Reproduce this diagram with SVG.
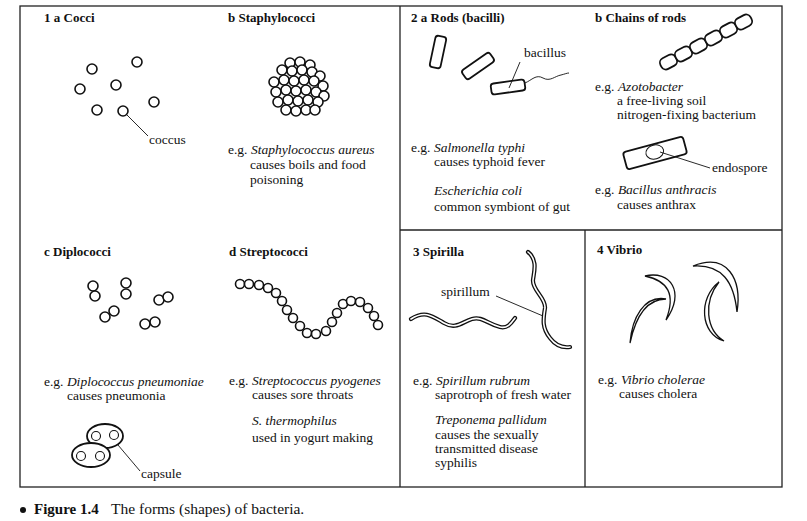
<svg xmlns="http://www.w3.org/2000/svg" width="807" height="521" viewBox="0 0 807 521">
<defs>
<style>
text{font-family:"Liberation Serif","DejaVu Serif",serif;font-size:13.5px;fill:#111}
.h{font-weight:bold;font-size:13px}
.i{font-style:italic}
.c{fill:#fff;stroke:#111;stroke-width:1.6}
.ln{fill:none;stroke:#111;stroke-width:0.9}
.rod{fill:#fff;stroke:#111;stroke-width:1.8}
.sp1{fill:none;stroke:#111;stroke-width:4.2;stroke-linecap:round}
.sp2{fill:none;stroke:#fff;stroke-width:1.6;stroke-linecap:round}
.cr{fill:#fff;stroke:#111;stroke-width:1.3}
</style>
</defs>
<rect width="807" height="521" fill="#fff"/>
<g id="frame" fill="none" stroke="#222" stroke-width="1.3">
<rect x="20" y="6" width="762" height="481"/>
<line x1="400" y1="6" x2="400" y2="487"/>
<line x1="400" y1="230" x2="782" y2="230"/>
<line x1="585" y1="230" x2="585" y2="487"/>
</g>
<g id="cocci">
<text x="44" y="22" class="h">1 a Cocci</text>
<circle class="c" cx="92" cy="69" r="5"/><circle class="c" cx="137" cy="62" r="5"/><circle class="c" cx="80" cy="89" r="5"/><circle class="c" cx="116" cy="85" r="5"/><circle class="c" cx="97" cy="110" r="5"/><circle class="c" cx="123" cy="111" r="5"/><circle class="c" cx="154" cy="102" r="5"/>
<line class="ln" x1="126" y1="114" x2="148" y2="136"/>
<text x="149" y="144">coccus</text>
</g>
<g id="staph">
<text x="228" y="22" class="h">b Staphylococci</text>
<g transform="translate(298,88)">
<circle class="c" cx="-8" cy="-25" r="5"/><circle class="c" cx="2" cy="-26" r="5"/><circle class="c" cx="12" cy="-23" r="5"/>
<circle class="c" cx="-16" cy="-18" r="5"/><circle class="c" cx="-6" cy="-17" r="5"/><circle class="c" cx="4" cy="-18" r="5"/><circle class="c" cx="14" cy="-16" r="5"/><circle class="c" cx="22" cy="-12" r="5"/>
<circle class="c" cx="-24" cy="-6" r="5"/><circle class="c" cx="-14" cy="-8" r="5"/><circle class="c" cx="-4" cy="-7" r="5"/><circle class="c" cx="6" cy="-8" r="5"/><circle class="c" cx="16" cy="-7" r="5"/><circle class="c" cx="25" cy="-2" r="5"/>
<circle class="c" cx="-22" cy="4" r="5"/><circle class="c" cx="-12" cy="2" r="5"/><circle class="c" cx="-2" cy="3" r="5"/><circle class="c" cx="8" cy="2" r="5"/><circle class="c" cx="18" cy="4" r="5"/><circle class="c" cx="26" cy="8" r="5"/>
<circle class="c" cx="-20" cy="14" r="5"/><circle class="c" cx="-10" cy="12" r="5"/><circle class="c" cx="0" cy="13" r="5"/><circle class="c" cx="10" cy="12" r="5"/><circle class="c" cx="20" cy="14" r="5"/>
<circle class="c" cx="-12" cy="22" r="5"/><circle class="c" cx="-2" cy="23" r="5"/><circle class="c" cx="8" cy="22" r="5"/><circle class="c" cx="17" cy="22" r="5"/>
</g>
<text x="228" y="154">e.g. <tspan class="i">Staphylococcus aureus</tspan></text>
<text x="250" y="169">causes boils and food</text>
<text x="250" y="184">poisoning</text>
</g>
<g id="rods">
<text x="411" y="22" class="h">2 a Rods (bacilli)</text>
<rect class="rod" x="-5.5" y="-16" width="11" height="32" rx="3" transform="translate(438,52) rotate(12)"/>
<rect class="rod" x="-17" y="-5.5" width="34" height="11" rx="3" transform="translate(478,66) rotate(-35)"/>
<rect class="rod" x="-17" y="-5.5" width="34" height="11" rx="3" transform="translate(508,87) rotate(-8)"/>
<path class="ln" d="M525,83 C532,80 536,74 543,78 C550,82 555,76 561,75 C565,74 567,73 569,73"/>
<text x="524" y="57">bacillus</text>
<line class="ln" x1="520" y1="62" x2="509" y2="88"/>
<text x="411" y="152">e.g. <tspan class="i">Salmonella typhi</tspan></text>
<text x="434" y="166">causes typhoid fever</text>
<text x="434" y="195" class="i">Escherichia coli</text>
<text x="434" y="211">common symbiont of gut</text>
</g>
<g id="chains">
<text x="595" y="22" class="h">b Chains of rods</text>
<g transform="translate(706,42) rotate(-28)">
<rect class="rod" x="-51" y="-6" width="17" height="12" rx="5"/>
<rect class="rod" x="-34" y="-6" width="17" height="12" rx="5"/>
<rect class="rod" x="-17" y="-6" width="17" height="12" rx="5"/>
<rect class="rod" x="0" y="-6" width="17" height="12" rx="5"/>
<rect class="rod" x="17" y="-6" width="17" height="12" rx="5"/>
<rect class="rod" x="34" y="-6" width="17" height="12" rx="5"/>
</g>
<text x="595" y="91">e.g. <tspan class="i">Azotobacter</tspan></text>
<text x="617" y="105">a free-living soil</text>
<text x="617" y="119">nitrogen-fixing bacterium</text>
<g transform="translate(655,153) rotate(-15)">
<rect class="rod" x="-31" y="-9" width="62" height="18" rx="3"/>
<ellipse cx="0" cy="-1" rx="9" ry="7" fill="none" stroke="#111" stroke-width="1"/>
</g>
<line class="ln" x1="660" y1="152" x2="710" y2="168"/>
<text x="712" y="172">endospore</text>
<text x="595" y="194">e.g. <tspan class="i">Bacillus anthracis</tspan></text>
<text x="617" y="209">causes anthrax</text>
</g>
<g id="diplococci">
<text x="44" y="256" class="h">c Diplococci</text>
<circle class="c" cx="93" cy="286" r="5"/><circle class="c" cx="95" cy="296" r="5"/>
<circle class="c" cx="126" cy="283" r="5"/><circle class="c" cx="126" cy="294" r="5"/>
<circle class="c" cx="159" cy="300" r="5"/><circle class="c" cx="168" cy="297" r="5"/>
<circle class="c" cx="105" cy="317" r="5"/><circle class="c" cx="114" cy="311" r="5"/>
<circle class="c" cx="145" cy="324" r="5"/><circle class="c" cx="155" cy="322" r="5"/>
<text x="44" y="386">e.g. <tspan class="i">Diplococcus pneumoniae</tspan></text>
<text x="67" y="400">causes pneumonia</text>
<ellipse cx="105" cy="436" rx="18" ry="12" fill="#fff" stroke="#111" stroke-width="1.8"/>
<circle cx="96" cy="436" r="4.5" fill="none" stroke="#111" stroke-width="1.1"/><circle cx="114" cy="435" r="4.5" fill="none" stroke="#111" stroke-width="1.1"/>
<ellipse cx="91" cy="455" rx="19" ry="12" fill="#fff" stroke="#111" stroke-width="1.8"/>
<circle cx="81" cy="456" r="4.5" fill="none" stroke="#111" stroke-width="1.1"/><circle cx="100" cy="456" r="4.5" fill="none" stroke="#111" stroke-width="1.1"/>
<line class="ln" x1="118" y1="445" x2="140" y2="471"/>
<text x="141" y="478">capsule</text>
</g>
<g id="streptococci">
<text x="229" y="256" class="h">d Streptococci</text>
<g>
<circle class="c" cx="240" cy="284" r="4.5"/><circle class="c" cx="249" cy="284" r="4.5"/><circle class="c" cx="259" cy="285" r="4.5"/><circle class="c" cx="268" cy="288" r="4.5"/><circle class="c" cx="276" cy="293" r="4.5"/><circle class="c" cx="282" cy="301" r="4.5"/><circle class="c" cx="287" cy="310" r="4.5"/><circle class="c" cx="293" cy="318" r="4.5"/><circle class="c" cx="300" cy="326" r="4.5"/><circle class="c" cx="307" cy="333" r="4.5"/><circle class="c" cx="316" cy="334" r="4.5"/><circle class="c" cx="326" cy="331" r="4.5"/><circle class="c" cx="332" cy="322" r="4.5"/><circle class="c" cx="337" cy="313" r="4.5"/><circle class="c" cx="343" cy="304" r="4.5"/><circle class="c" cx="351" cy="301" r="4.5"/><circle class="c" cx="360" cy="302" r="4.5"/><circle class="c" cx="368" cy="308" r="4.5"/><circle class="c" cx="374" cy="316" r="4.5"/><circle class="c" cx="378" cy="325" r="4.5"/>
</g>
<text x="229" y="385">e.g. <tspan class="i">Streptococcus pyogenes</tspan></text>
<text x="252" y="399">causes sore throats</text>
<text x="252" y="425" class="i">S. thermophilus</text>
<text x="252" y="442">used in yogurt making</text>
</g>
<g id="spirilla">
<text x="413" y="256" class="h">3 Spirilla</text>
<path class="sp1" d="M411,319 C425,310 432,316 444,323 C456,330 462,322 472,319 C482,316 488,324 500,327 C508,329 512,322 515,318"/>
<path class="sp2" d="M411,319 C425,310 432,316 444,323 C456,330 462,322 472,319 C482,316 488,324 500,327 C508,329 512,322 515,318"/>
<path class="sp1" d="M528,252 C538,260 534,272 533,280 C532,290 546,298 545,308 C543,320 542,328 550,338 C556,346 563,348 570,347"/>
<path class="sp2" d="M528,252 C538,260 534,272 533,280 C532,290 546,298 545,308 C543,320 542,328 550,338 C556,346 563,348 570,347"/>
<text x="441" y="296">spirillum</text>
<line class="ln" x1="496" y1="296" x2="543" y2="316"/>
<text x="413" y="385">e.g. <tspan class="i">Spirillum rubrum</tspan></text>
<text x="435" y="399">saprotroph of fresh water</text>
<text x="435" y="424" class="i">Treponema pallidum</text>
<text x="435" y="439">causes the sexually</text>
<text x="435" y="453">transmitted disease</text>
<text x="435" y="467">syphilis</text>
</g>
<g id="vibrio">
<text x="597" y="254" class="h">4 Vibrio</text>
<path class="cr" d="M630,343 C632,318 644,295 666,299 C648,299 636,315 630,343 Z"/>
<path class="cr" d="M645,276 C670,270 686,292 666,320 C676,294 668,281 645,276 Z"/>
<path class="cr" d="M693,266 C728,252 742,280 737,312 C734,282 722,264 693,266 Z"/>
<path class="cr" d="M719,282 C698,298 700,334 724,341 C706,330 703,302 719,282 Z"/>
<text x="598" y="384">e.g. <tspan class="i">Vibrio cholerae</tspan></text>
<text x="619" y="398">causes cholera</text>
</g>
<g id="caption">
<circle cx="23" cy="510" r="3" fill="#111"/>
<text x="34" y="514" style="font-size:15px;font-weight:bold">Figure 1.4</text>
<text x="111" y="514" style="font-size:15.5px">The forms (shapes) of bacteria.</text>
</g>
</svg>
